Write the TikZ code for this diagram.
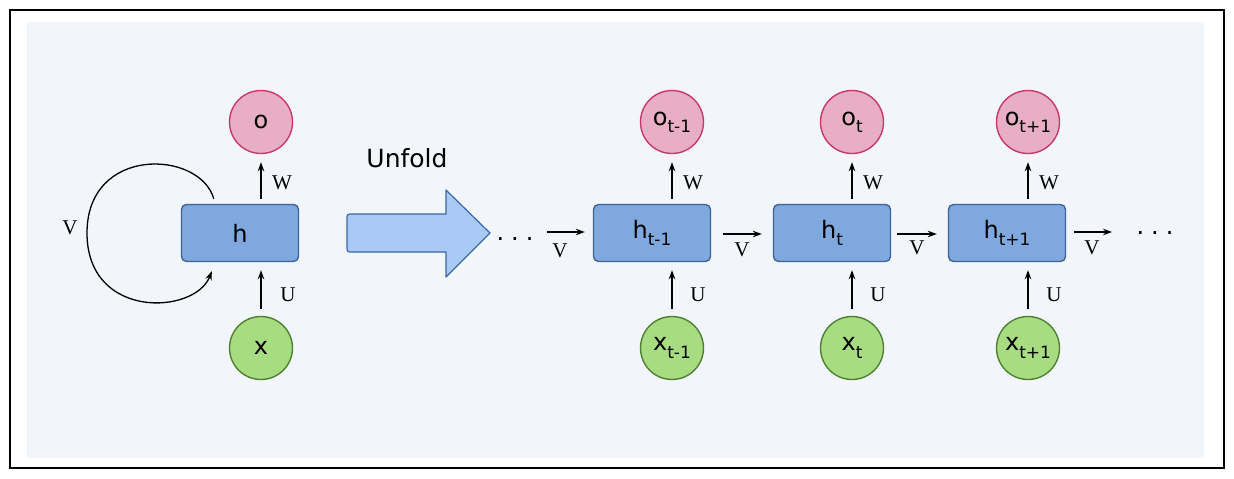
\documentclass[tikz,border=0pt]{standalone}
\usepackage{fontspec}
\setmainfont{DejaVu Sans}
\newfontfamily\lblfont{Liberation Serif}
\usetikzlibrary{arrows.meta,calc}
\definecolor{panel}{HTML}{F2F6FA}
\definecolor{boxfill}{HTML}{7FA8DE}
\definecolor{boxline}{HTML}{3E6496}
\definecolor{ofill}{HTML}{E8AEC4}
\definecolor{oline}{HTML}{C8386A}
\definecolor{xfill}{HTML}{A8DC80}
\definecolor{xline}{HTML}{4E7F32}
\definecolor{ufill}{HTML}{A9C9F7}
\definecolor{uline}{HTML}{3A68A8}
\newcommand\mysub[1]{\raisebox{-0.3em}{\fontsize{17}{17}\selectfont #1}}
\begin{document}
\begin{tikzpicture}[x=1pt,y=-1pt,
  hbox/.style={draw=boxline, fill=boxfill, rounded corners=5pt, line width=1.4pt,
    minimum width=117pt, minimum height=57pt, inner sep=0pt,
    font=\fontsize{24}{24}\selectfont},
  onode/.style={circle, draw=oline, fill=ofill, line width=1.4pt, minimum size=63pt,
    inner sep=0pt, font=\fontsize{24}{24}\selectfont},
  xnode/.style={circle, draw=xline, fill=xfill, line width=1.4pt, minimum size=63pt,
    inner sep=0pt, font=\fontsize{24}{24}\selectfont},
  arr/.style={-{Stealth[length=9pt,width=6.5pt]}, line width=1.3pt, black},
  lbl/.style={font=\lblfont\fontsize{21}{21}\selectfont, inner sep=0pt},
  dots/.style={font=\fontsize{24}{24}\selectfont, inner sep=0pt}
]
\useasboundingbox (0,0) rectangle (1234,479);
\fill[white] (0,0) rectangle (1234,479);
\draw[line width=1.5pt] (10,10) rectangle (1224,468);
\fill[panel] (27,22) rectangle (1204,458);

% folded network
\node[hbox] (h) at (240,233) {h};
\node[onode] (o) at (261,122) {o};
\node[xnode] (x) at (261,348) {x};
\draw[arr, shorten <=5pt, shorten >=8pt] (h.north -| o.south) -- (o.south);
\draw[arr, shorten <=7pt, shorten >=8pt] (x.north) -- (h.south -| x.north);
\node[lbl] at (282,183) {W};
\node[lbl] at (288,295) {U};
\coordinate (ls) at ($(h.north west)+(33,-5)$);
\coordinate (le) at ($(h.south west)+(31,9)$);
\coordinate (lm) at (87,233);
\draw[arr] (ls) .. controls (200,150) and (87,145) .. (lm)
  .. controls (87,320) and (195,315) .. (le);
\node[lbl] at (70,228) {V};

% unfold arrow
\node[font=\fontsize{25}{25}\selectfont, inner sep=0pt] (unf) at (407,158) {Unfold};
\draw[fill=ufill, draw=uline, line width=1.2pt, line join=round]
  (446,214) -- (446,190) -- (490,233) -- (446,277) -- (446,252) -- (353,252)
  .. controls (347,252) .. (347,246) -- (347,220) .. controls (347,214) .. (353,214) -- cycle;
\node[dots] (d0) at (515,239) {.\hspace{7pt}.\hspace{7pt}.};

% unrolled network
\node[hbox] (h1) at (652,233) {h\mysub{t-1}};
\node[hbox] (h2) at (832,233) {h\mysub{t}};
\node[hbox] (h3) at (1007,233) {h\mysub{t+1}};
\node[onode] (o1) at (672,122) {o\mysub{t-1}};
\node[onode] (o2) at (852,122) {o\mysub{t}};
\node[onode] (o3) at (1028,122) {o\mysub{t+1}};
\node[xnode] (x1) at (672,348) {x\mysub{t-1}};
\node[xnode] (x2) at (852,348) {x\mysub{t}};
\node[xnode] (x3) at (1028,348) {x\mysub{t+1}};

\foreach \i in {1,2,3}{
  \draw[arr, shorten <=5pt, shorten >=8pt] (h\i.north -| o\i.south) -- (o\i.south);
  \draw[arr, shorten <=7pt, shorten >=8pt] (x\i.north) -- (h\i.south -| x\i.north);
  \node[lbl] at ($(o\i.center)+(21,61)$) {W};
  \node[lbl] at ($(x\i.center)+(26,-53)$) {U};
}

\coordinate (a0) at (547,232);
\coordinate (a4) at (1112,232);
\draw[arr, shorten >=8pt] (a0) -- (a0 -| h1.west);
\draw[arr, shorten <=12pt, shorten >=11pt] ([yshift=-1pt]h1.east) -- ([yshift=-1pt]h2.west);
\draw[arr, shorten <=6pt, shorten >=11pt] ([yshift=-1pt]h2.east) -- ([yshift=-1pt]h3.west);
\draw[arr, shorten <=8pt] (a4 -| h3.east) -- (a4);
\node[lbl] at (560,251) {V};
\node[lbl] at (742,250) {V};
\node[lbl] at (917,248) {V};
\node[lbl] at (1092,248) {V};
\node[dots] (d4) at (1155,233) {.\hspace{7pt}.\hspace{7pt}.};
\end{tikzpicture}
\end{document}
